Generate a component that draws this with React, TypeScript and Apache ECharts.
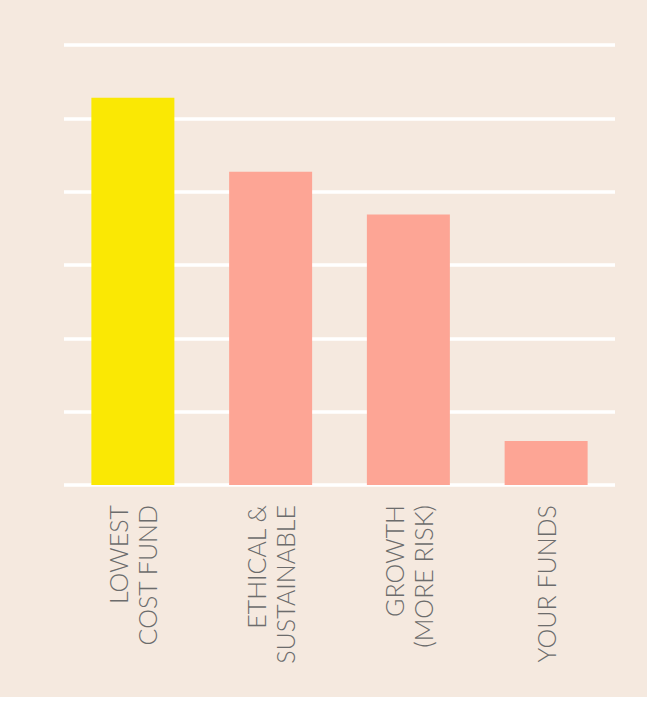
import React, { useEffect, useRef } from "react";
import * as echarts from "echarts";

const categories = ["LOWEST\nCOST FUND", "ETHICAL &\nSUSTAINABLE", "GROWTH\n(MORE RISK)", "YOUR FUNDS"];
const values = [5.28, 4.27, 3.69, 0.6];
const barColors = ["#FAE804", "#FDA595", "#FDA595", "#FDA595"];

export default function App() {
  const ref = useRef<HTMLDivElement>(null);
  useEffect(() => {
    if (!ref.current) return;
    const chart = echarts.init(ref.current, null, { renderer: "svg" });
    chart.setOption({
      animation: false,
      backgroundColor: "#F5E9DF",
      grid: { left: 64, right: 32, top: 45, bottom: 212, containLabel: false },
      xAxis: {
        type: "category",
        data: categories,
        axisLine: { show: false },
        axisTick: { show: false },
        axisLabel: {
          rotate: 90,
          margin: 20,
          interval: 0,
          fontFamily: "Lato",
          fontWeight: 300,
          fontSize: 25,
          lineHeight: 29,
          color: "#6C6C6C",
        },
      },
      yAxis: {
        type: "value",
        min: 0,
        max: 6,
        interval: 1,
        axisLabel: { show: false },
        axisLine: { show: false },
        axisTick: { show: false },
        splitLine: { show: true, lineStyle: { color: "#FFFFFF", width: 3.5 } },
      },
      series: [
        {
          type: "bar",
          barWidth: 83,
          data: values.map((v, i) => ({ value: v, itemStyle: { color: barColors[i] } })),
        },
      ],
    });
    return () => chart.dispose();
  }, []);
  return (
    <div
      ref={ref}
      style={{ position: "absolute", left: 0, top: 0, width: 647, height: 697 }}
    />
  );
}
